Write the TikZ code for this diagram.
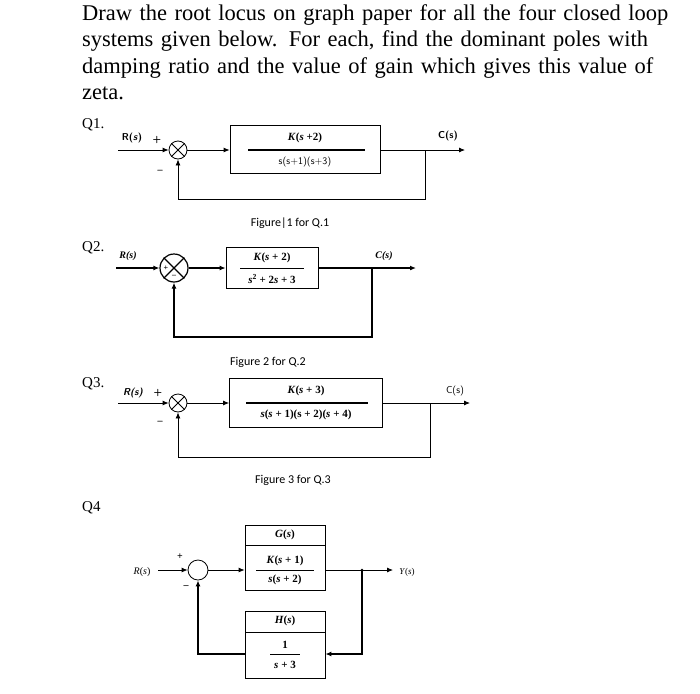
\documentclass[tikz,border=0pt]{standalone}
\usepackage{fontspec}
\setmainfont{Liberation Serif}
\newfontfamily\capfont{Carlito}
\usetikzlibrary{arrows.meta}
\begin{document}
\begin{tikzpicture}[x=1pt,y=-1pt,
 ln/.style={line width=0.8pt},
 thk/.style={line width=1.8pt},
 arr/.style={-{Latex[length=6pt,width=5pt]}},
 box/.style={draw,line width=0.8pt,inner sep=0pt},
 lbl/.style={font=\sffamily\bfseries\fontsize{10}{11}\selectfont,inner sep=1pt},
 frac/.style={font=\fontsize{11}{12}\selectfont\bfseries,inner sep=1pt},
 figcap/.style={font=\capfont\fontsize{12}{14}\selectfont,inner sep=0pt},
 q/.style={font=\fontsize{15}{17}\selectfont,inner sep=0pt,anchor=west}]
\useasboundingbox (0,0) rectangle (700,693);
\node[anchor=north west,text width=600pt,align=left,inner sep=0pt,font=\fontsize{22.5}{26.5}\selectfont] (title) at (82,4)
{Draw the root locus on graph paper for all the four closed loop\\ systems given below. For each, find the dominant poles with\\ damping ratio and the value of gain which gives this value of\\ zeta.};
% Q1
\node[q] (q1) at (82,125) {Q1.};
\node[draw,circle,minimum size=18pt,inner sep=0pt,ln] (s1) at (178,150) {};
\draw[ln] (s1.north west)--(s1.south east) (s1.north east)--(s1.south west);
\coordinate (r1) at (118,150);
\node[lbl] (R1) at (132,138) {R(\textit{s})};
\node[lbl] (p1) at (157,140) {+};
\node[lbl] (m1) at (160,172) {--};
\node[box,minimum width=150pt,minimum height=48pt] (b1) at (305,149) {};
\node[frac] (n1) at (305,138) {\textit{K}(\textit{s} +2)};
\node[font=\sffamily\fontsize{10}{11}\selectfont] (d1) at (305,162) {s(s+1)(s+3)};
\draw[line width=1.2pt] (248,150)--(365,150);
\coordinate (o1) at (465,150);
\node[lbl] (C1) at (448,136) {C(s)};
\draw[ln,arr] (r1)--(s1);
\draw[ln,arr] (s1)--(b1.west |- s1);
\draw[ln,arr] (b1.east |- o1)--(o1);
\coordinate (f1) at (425,150);
\draw[ln,arr] (f1)--(425,199)--(178,199)--(s1.south);
\node[figcap] (c1) at (290,223) {Figure|1 for Q.1};
% Q2
\node[q] (q2) at (82,248) {Q2.};
\node[draw,circle,minimum size=28pt,inner sep=0pt,line width=1.2pt] (s2) at (174,268) {};
\draw[line width=1.2pt] (s2.north west)--(s2.south east) (s2.north east)--(s2.south west);
\node[font=\fontsize{8}{9}\selectfont\bfseries] (p2) at (166,268) {+};
\node[font=\fontsize{8}{9}\selectfont\bfseries] (m2) at (174,276) {--};
\node[font=\bfseries\itshape\fontsize{10}{11}\selectfont] (R2) at (128,256) {R(s)};
\coordinate (r2) at (116,268);
\node[box,minimum width=92pt,minimum height=41pt] (b2) at (272,268) {};
\node[frac] (n2) at (272,258) {\textit{K}(\textit{s} + 2)};
\node[frac] (d2) at (272,279) {\textit{s}$^{\mathbf 2}$ + 2\textit{s} + 3};
\draw[ln] (240,268)--(304,268);
\coordinate (o2) at (416,268);
\node[font=\bfseries\itshape\fontsize{10}{11}\selectfont] (C2) at (384,256) {C(s)};
\draw[thk,arr] (r2)--(s2);
\draw[thk,arr] (s2)--(b2.west |- s2);
\draw[thk,arr] (b2.east |- o2)--(o2);
\coordinate (f2) at (372,268);
\draw[thk,arr] (f2)--(372,337)--(174,337)--(s2.south);
\node[figcap] (c2) at (268,362) {Figure 2 for Q.2};
% Q3
\node[q] (q3) at (82,384) {Q3.};
\node[draw,circle,minimum size=18pt,inner sep=0pt,ln] (s3) at (178,403) {};
\draw[ln] (s3.north west)--(s3.south east) (s3.north east)--(s3.south west);
\coordinate (r3) at (118,403);
\node[font=\sffamily\bfseries\itshape\fontsize{10}{11}\selectfont] (R3) at (133,393) {R(s)};
\node[lbl] (p3) at (158,393) {+};
\node[lbl] (m3) at (160,423) {--};
\node[box,minimum width=153pt,minimum height=49pt] (b3) at (306,403) {};
\node[frac] (n3) at (306,391) {\textit{K}(\textit{s} + 3)};
\node[frac] (d3) at (306,415) {\textit{s}(\textit{s} + 1)(s + 2)(\textit{s} + 4)};
\draw[line width=1.2pt] (246,403)--(368,403);
\coordinate (o3) at (470,403);
\node[font=\sffamily\fontsize{10}{11}\selectfont] (C3) at (455,391) {C(s)};
\draw[ln,arr] (r3)--(s3);
\draw[ln,arr] (s3)--(b3.west |- s3);
\draw[ln,arr] (b3.east |- o3)--(o3);
\coordinate (f3) at (430,403);
\draw[ln,arr] (f3)--(430,457)--(178,457)--(s3.south);
\node[figcap] (c3) at (293,480) {Figure 3 for Q.3};
% Q4
\node[q] (q4) at (82,508) {Q4};
\node[draw,circle,minimum size=20pt,inner sep=0pt,ln] (s4) at (198,570) {};
\node[font=\fontsize{10}{11}\selectfont] (R4) at (142,572) {\textit{R}(\textit{s})};
\coordinate (r4) at (158,570);
\node[font=\fontsize{10}{11}\selectfont\bfseries] (p4) at (180,557) {+};
\node[font=\fontsize{10}{11}\selectfont\bfseries] (m4) at (186,587) {--};
\node[box,minimum width=80pt,minimum height=65pt] (g4) at (285,557.5) {};
\draw[ln] (245,545)--(325,545);
\node[frac] (gl) at (285,535) {\textit{G}(\textit{s})};
\node[frac] (gn) at (285,561) {\textit{K}(\textit{s} + 1)};
\node[frac] (gd) at (285,580) {\textit{s}(\textit{s} + 2)};
\draw[ln] (256,570)--(314,570);
\node[box,minimum width=80pt,minimum height=67pt] (h4) at (285,644.5) {};
\draw[ln] (245,632)--(325,632);
\node[frac] (hl) at (285,621) {\textit{H}(\textit{s})};
\node[frac] (hn) at (285,645) {1};
\node[frac] (hd) at (285,665) {\textit{s} + 3};
\draw[ln] (270,654)--(300,654);
\coordinate (o4) at (393,570);
\node[font=\fontsize{9}{10}\selectfont] (Y4) at (407,572) {\textit{Y}(\textit{s})};
\draw[ln,arr] (r4)--(s4);
\draw[ln,arr] (s4)--(g4.west |- s4);
\draw[ln,arr] (g4.east |- o4)--(o4);
\coordinate (f4) at (362,570);
\fill (f4) circle (1.3pt);
\draw[line width=1.2pt,arr] (f4)--(362,654)--(h4.east |- 0,654);
\draw[line width=1.2pt,arr] (h4.west |- 0,654)--(198,654)--(s4.south);
\end{tikzpicture}
\end{document}
